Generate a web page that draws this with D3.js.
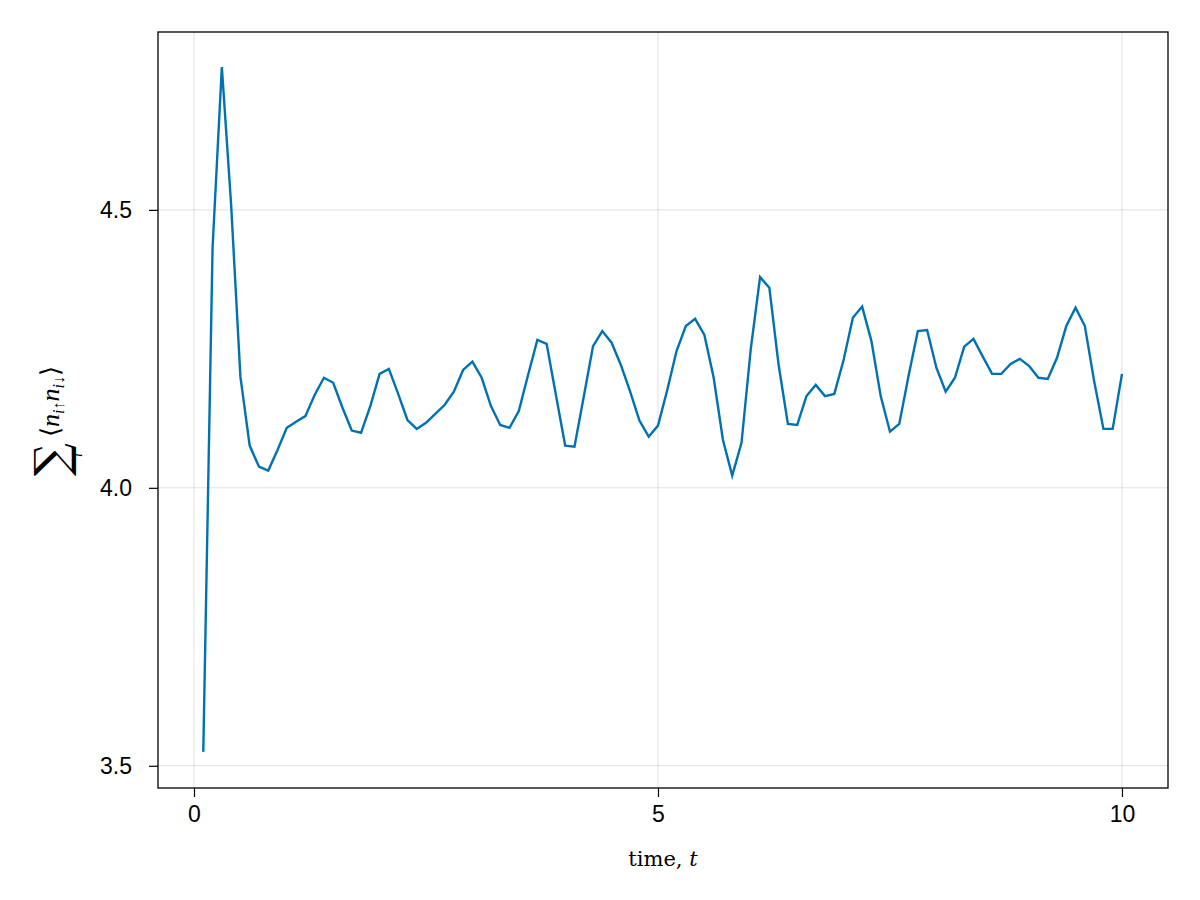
<!DOCTYPE html>
<html><head><meta charset="utf-8">
<script src="https://cdn.jsdelivr.net/npm/d3@7"></script>
<style>body{margin:0;background:#fff} .tk text{font-family:"Liberation Sans",Arial,sans-serif;font-size:23px;fill:#000}</style></head>
<body><svg id="c" width="1200" height="900"></svg>
<script>
const times = d3.range(1, 101).map(k => k / 10);
const values = [3.525,4.432,4.757,4.509,4.200,4.076,4.038,4.031,4.068,4.108,
4.119,4.129,4.167,4.198,4.189,4.144,4.103,4.099,4.147,4.205,
4.214,4.169,4.122,4.106,4.117,4.133,4.149,4.173,4.212,4.227,
4.198,4.147,4.113,4.108,4.138,4.203,4.266,4.259,4.167,4.076,
4.074,4.164,4.255,4.282,4.261,4.221,4.173,4.121,4.092,4.112,
4.176,4.246,4.291,4.304,4.275,4.198,4.086,4.022,4.081,4.250,
4.379,4.360,4.221,4.115,4.113,4.165,4.185,4.165,4.169,4.230,
4.306,4.326,4.264,4.165,4.101,4.115,4.201,4.282,4.284,4.216,
4.173,4.198,4.254,4.268,4.236,4.205,4.205,4.223,4.232,4.219,
4.198,4.196,4.234,4.291,4.324,4.291,4.192,4.106,4.106,4.205];
const xTicks = [0,5,10];
const yTicks = [3.5,4.0,4.5];

const svg = d3.select("#c");
const L=158,R=1168,T=32,B=788;
const x = d3.scaleLinear().domain([-0.388,10.496]).range([L,R]);
const y = d3.scaleLinear().domain([3.460,4.820]).range([B,T]);
const g = svg.append("g");
g.selectAll(".vg").data(xTicks).join("line").attr("x1",d=>x(d)).attr("x2",d=>x(d)).attr("y1",T).attr("y2",B).attr("stroke","#000").attr("stroke-opacity",0.12).attr("stroke-width",1);
g.selectAll(".hg").data(yTicks).join("line").attr("y1",d=>y(d)).attr("y2",d=>y(d)).attr("x1",L).attr("x2",R).attr("stroke","#000").attr("stroke-opacity",0.12).attr("stroke-width",1);
svg.append("path").datum(times.map((t,i)=>[t,values[i]])).attr("fill","none").attr("stroke","#0072b2").attr("stroke-width",2.4).attr("stroke-linejoin","miter")
 .attr("d",d3.line().x(d=>x(d[0])).y(d=>y(d[1])));
svg.append("rect").attr("x",L).attr("y",T).attr("width",R-L).attr("height",B-T).attr("fill","none").attr("stroke","#000").attr("stroke-width",1.3);
const xa = svg.append("g").attr("class","tk").attr("transform",`translate(0,${B})`).call(d3.axisBottom(x).tickValues(xTicks).tickFormat(d3.format("d")).tickSize(9).tickPadding(9));
const ya = svg.append("g").attr("class","tk").attr("transform",`translate(${L},0)`).call(d3.axisLeft(y).tickValues(yTicks).tickFormat(d3.format(".1f")).tickSize(9).tickPadding(17));
[xa,ya].forEach(a=>{a.select(".domain").remove();a.attr("font-family",null).attr("font-size",null);a.selectAll("line").attr("stroke","#000").attr("stroke-width",1.2);});
ya.selectAll("line").attr("x2",-9);
const xl = svg.append("text").attr("x",(L+R)/2).attr("y",866).attr("text-anchor","middle").attr("font-family","DejaVu Serif, Liberation Serif, serif").attr("font-size",21);
xl.append("tspan").text("time, ");
xl.append("tspan").attr("font-style","italic").text("t");
const yl = svg.append("g").attr("transform","translate(50,410) rotate(-90)");
yl.append("text").attr("x",-66).attr("y",17).attr("font-family","DejaVu Serif, serif").attr("font-size",46).text("∑");
yl.append("text").attr("x",-47).attr("y",32).attr("font-family","Liberation Serif, serif").attr("font-style","italic").attr("font-size",14).text("i");
const t = yl.append("text").attr("x",-27).attr("y",9).attr("font-family","Liberation Serif, serif").attr("font-size",26);
t.append("tspan").text("⟨");
t.append("tspan").attr("font-style","italic").text("n");
t.append("tspan").attr("font-size",16).attr("dy",5).attr("font-style","italic").text("i↑");
t.append("tspan").attr("dy",-5).attr("font-style","italic").text("n");
t.append("tspan").attr("font-size",16).attr("dy",5).attr("font-style","italic").text("i↓");
t.append("tspan").attr("dy",-5).text("⟩");
</script></body></html>
